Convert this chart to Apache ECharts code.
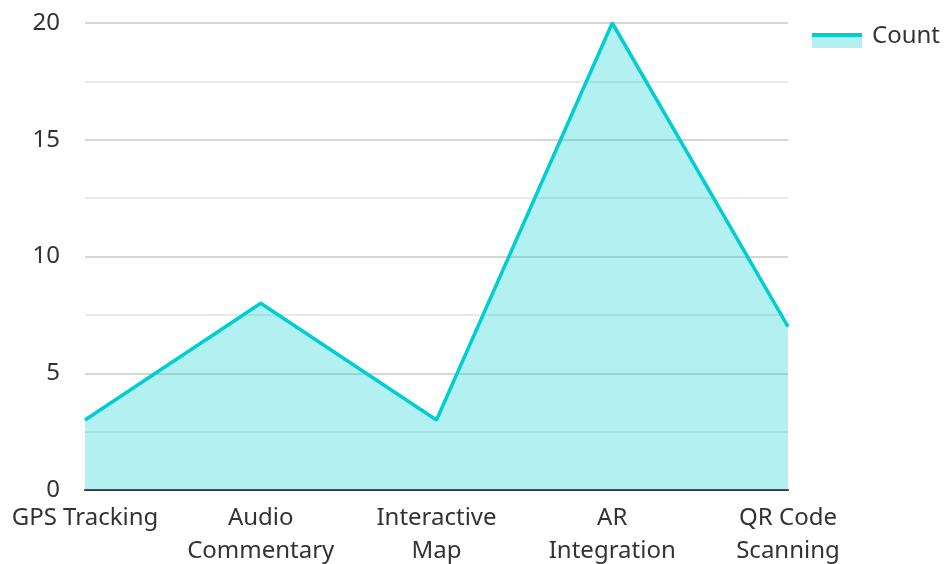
<!DOCTYPE html>
<html><head><meta charset="utf-8">
<script src="https://cdn.jsdelivr.net/npm/echarts@6/dist/echarts.min.js"></script>
<style>html,body{margin:0;padding:0;background:#fff}#c{width:945px;height:564px}</style>
</head><body><div id="c"></div>
<script>
const categories = ['GPS Tracking', 'Audio\nCommentary', 'Interactive\nMap', 'AR\nIntegration', 'QR Code\nScanning'];
const countValues = [3, 8, 3, 20, 7];
const yTicks = { min: 0, max: 20, interval: 5 };
const chart = echarts.init(document.getElementById('c'));
chart.setOption({
  animation: false,
  textStyle: { fontFamily: 'Noto Sans' },
  legend: {
    left: 807, top: 19, itemWidth: 50, itemHeight: 15,
    icon: 'rect',
    itemStyle: { color: 'rgba(0,0,0,0)', borderWidth: 0 },
    textStyle: { fontSize: 24, color: '#333', fontFamily: 'Noto Sans', padding: [0, 0, 0, 5] },
    data: ['Count']
  },
  graphic: [{
    type: 'rect', left: 812, top: 37, silent: true,
    shape: { width: 50, height: 11 }, style: { fill: 'rgba(0,206,209,0.3)' }
  }, {
    type: 'rect', left: 812, top: 33, silent: true,
    shape: { width: 50, height: 4 }, style: { fill: '#00CED1' }
  }],
  grid: { left: 85, right: 157, top: 23, bottom: 74, outerBoundsMode: 'none', containLabel: false },
  xAxis: {
    type: 'category', data: categories, boundaryGap: false,
    axisLine: { lineStyle: { color: '#333', width: 2 } },
    axisTick: { show: false },
    axisLabel: { fontSize: 24, color: '#333', margin: 12, lineHeight: 33, interval: 0, fontFamily: 'Noto Sans' }
  },
  yAxis: {
    type: 'value', min: yTicks.min, max: yTicks.max, interval: yTicks.interval,
    axisLine: { show: false }, axisTick: { show: false },
    axisLabel: { fontSize: 24, color: '#333', margin: 25, fontFamily: 'Noto Sans' },
    splitLine: { lineStyle: { color: '#c8c8c8', width: 1.5 } },
    minorTick: { show: false, splitNumber: 2 },
    minorSplitLine: { show: true, lineStyle: { color: '#e4e4e4', width: 1.5 } }
  },
  series: [{
    name: 'Count', type: 'line', data: countValues,
    symbol: 'none', lineStyle: { color: '#00CED1', width: 3.5 },
    itemStyle: { color: '#00CED1' },
    areaStyle: { color: 'rgba(0,206,209,0.3)', opacity: 1 }
  }]
});
</script></body></html>
